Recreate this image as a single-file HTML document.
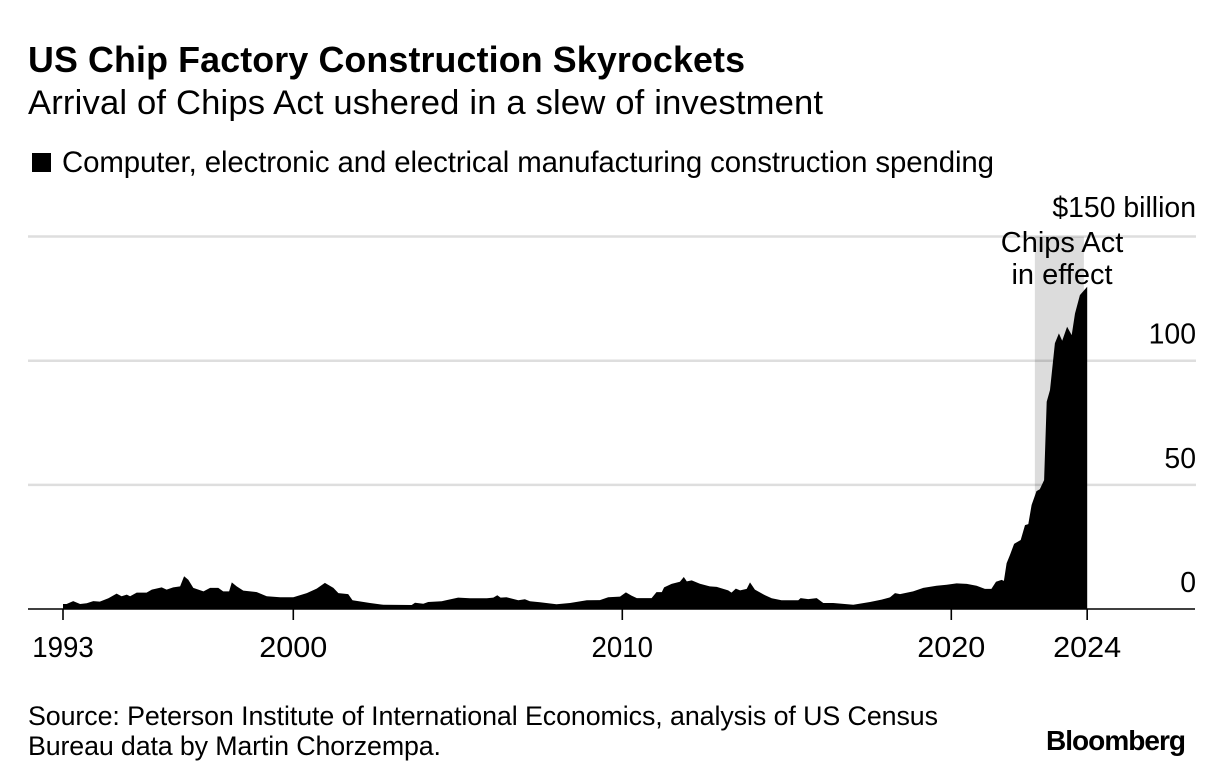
<!DOCTYPE html>
<html lang="en">
<head>
<meta charset="utf-8">
<title>US Chip Factory Construction Skyrockets</title>
<style>
html,body{margin:0;padding:0;background:#fff;width:1224px;height:784px;overflow:hidden}
svg{display:block}
text{font-family:"Liberation Sans",Arial,sans-serif;fill:#000}
</style>
</head>
<body>
<svg id="chart" width="1224" height="784" viewBox="0 0 1224 784" xmlns="http://www.w3.org/2000/svg">
<rect width="1224" height="784" fill="#fff"/>
<text x="28" y="72" font-size="35.8" font-weight="700" textLength="717" lengthAdjust="spacing">US Chip Factory Construction Skyrockets</text>
<text x="28" y="114" font-size="34.6" textLength="795" lengthAdjust="spacing">Arrival of Chips Act ushered in a slew of investment</text>
<rect x="32" y="153" width="19" height="19" fill="#000"/>
<text x="62" y="172" font-size="29.4" textLength="932" lengthAdjust="spacing">Computer, electronic and electrical manufacturing construction spending</text>
<g id="plot"></g>
<text x="28" y="725" font-size="26.8" textLength="910" lengthAdjust="spacing">Source: Peterson Institute of International Economics, analysis of US Census</text>
<text x="28" y="755" font-size="26.8" textLength="413" lengthAdjust="spacing">Bureau data by Martin Chorzempa.</text>
<text x="1046" y="750" font-size="28" font-weight="700" textLength="140" lengthAdjust="spacing">Bloomberg</text>
</svg>
<script>
const years = [1993,1993.11,1993.31,1993.52,1993.72,1993.92,1994.12,1994.38,1994.63,1994.78,1994.94,1995.04,1995.24,1995.54,1995.7,1996,1996.15,1996.35,1996.56,1996.68,1996.81,1996.96,1997.27,1997.47,1997.72,1997.87,1998.05,1998.13,1998.28,1998.48,1998.89,1999.19,1999.6,2000,2000.41,2000.71,2000.96,2001.22,2001.37,2001.67,2001.8,2002.33,2002.74,2003.6,2003.7,2003.95,2004.1,2004.51,2004.66,2005.01,2005.37,2005.88,2006.08,2006.2,2006.3,2006.48,2006.84,2007.04,2007.19,2007.5,2008,2008.41,2008.92,2009.32,2009.57,2009.93,2010.11,2010.28,2010.44,2010.89,2011.04,2011.2,2011.27,2011.5,2011.75,2011.87,2011.96,2012.11,2012.36,2012.66,2012.87,2013.22,2013.32,2013.45,2013.58,2013.78,2013.88,2014.03,2014.34,2014.54,2014.84,2015.35,2015.42,2015.65,2015.91,2016.11,2016.41,2017.02,2017.53,2017.88,2018.14,2018.29,2018.44,2018.84,2019.15,2019.55,2019.86,2020.16,2020.47,2020.77,2021.02,2021.22,2021.36,2021.53,2021.6,2021.68,2021.78,2021.91,2022.11,2022.24,2022.34,2022.44,2022.59,2022.69,2022.82,2022.9,2023,2023.15,2023.27,2023.37,2023.52,2023.66,2023.76,2023.91,2024.13];
const spending = [2,2,3.2,2,2.3,3.2,3,4.3,6.2,5.1,5.8,5.1,6.6,6.6,7.8,8.7,7.8,8.7,9.1,13.2,11.8,8.5,7.1,8.5,8.5,7.1,7.1,10.7,9.1,7.4,6.8,5.1,4.7,4.7,6.4,8.2,10.5,8.5,6.4,6,3.5,2.4,1.7,1.6,2.5,2.1,2.8,3.1,3.6,4.6,4.3,4.3,4.6,5.5,4.6,4.7,3.5,3.9,3.1,2.7,1.9,2.4,3.5,3.6,4.7,5,6.7,5.4,4.4,4.4,6.8,6.8,8.7,10.1,11,12.9,11.1,11.5,10.2,9.1,8.9,7.5,6.6,8.2,7.5,8.1,10.7,7.8,5.5,4.3,3.5,3.5,4.4,4,4.4,2.4,2.4,1.7,2.8,3.8,4.7,6.4,6,7.1,8.5,9.4,9.8,10.3,10.1,9.4,8.1,8.1,11,11.7,11.3,18.4,21.7,26.2,27.8,33.8,34.2,41.9,47.5,48.2,51.9,83.5,88.2,107,111,108,113.7,110.3,119,126.4,129.8];
const yTicks = [0,50,100,150];
const yTickLabels = ["0","50","100","$150 billion"];
const xTicks = [1993,2000,2010,2020,2024.13];
const xTickLabels = ["1993","2000","2010","2020","2024"];
const chipsActStart = 2022.54;
const chipsActEnd = 2024.03;

const NS = "http://www.w3.org/2000/svg";
const plot = document.getElementById("plot");
const xScale = y => 63 + (y - 1993) * 32.9;
const yScale = v => 609 - v * 2.483;
const left = 28, right = 1196;

function make(tag, attrs, text) {
  const el = document.createElementNS(NS, tag);
  for (const k in attrs) el.setAttribute(k, attrs[k]);
  if (text !== undefined) el.textContent = text;
  plot.appendChild(el);
  return el;
}

function labelWidth(s) {
  let w = 0;
  for (const c of s) w += c === "1" ? 10.5 : 17;
  return w;
}

const band = make("rect", {x: xScale(chipsActStart), y: yScale(150), width: xScale(chipsActEnd) - xScale(chipsActStart), height: yScale(0) - yScale(150), fill: "#dcdcdc"});



yTicks.forEach((t, i) => {
  if (t !== 0) {
    const g = make("line", {x1: left, x2: right, y1: yScale(t), y2: yScale(t), stroke: "#000", "stroke-opacity": 0.13, "stroke-width": 2.5});
    
    
  }
  const offset = i === yTicks.length - 1 ? 19.5 : 17;
  const lab = make("text", {x: right, y: yScale(t) - offset, "font-size": 28.4, "text-anchor": "end"}, yTickLabels[i]);
  
  
});

let d = "M" + xScale(years[0]).toFixed(1) + " " + yScale(0);
years.forEach((y, i) => { d += "L" + xScale(y).toFixed(1) + " " + yScale(spending[i]).toFixed(1); });
d += "L" + xScale(years[years.length - 1]).toFixed(1) + " " + yScale(0) + "Z";
const area = make("path", {d: d, fill: "#000"});



const axis = make("line", {x1: left, x2: right - 1, y1: yScale(0), y2: yScale(0), stroke: "#000", "stroke-width": 1.6});



xTicks.forEach((t, i) => {
  const tick = make("line", {x1: xScale(t), x2: xScale(t), y1: yScale(0), y2: yScale(0) + 11, stroke: "#000", "stroke-width": 1.6});
  
  
  const w = labelWidth(xTickLabels[i]);
  const lab = make("text", {x: xScale(t) - w / 2, y: 657, "font-size": 28.4, textLength: w, lengthAdjust: "spacingAndGlyphs"}, xTickLabels[i]);
  
  
});

const ann1 = make("text", {x: 1062, y: 252, "font-size": 29, "text-anchor": "middle"}, "Chips Act");


const ann2 = make("text", {x: 1062, y: 284, "font-size": 29, "text-anchor": "middle"}, "in effect");


</script>
</body>
</html>
